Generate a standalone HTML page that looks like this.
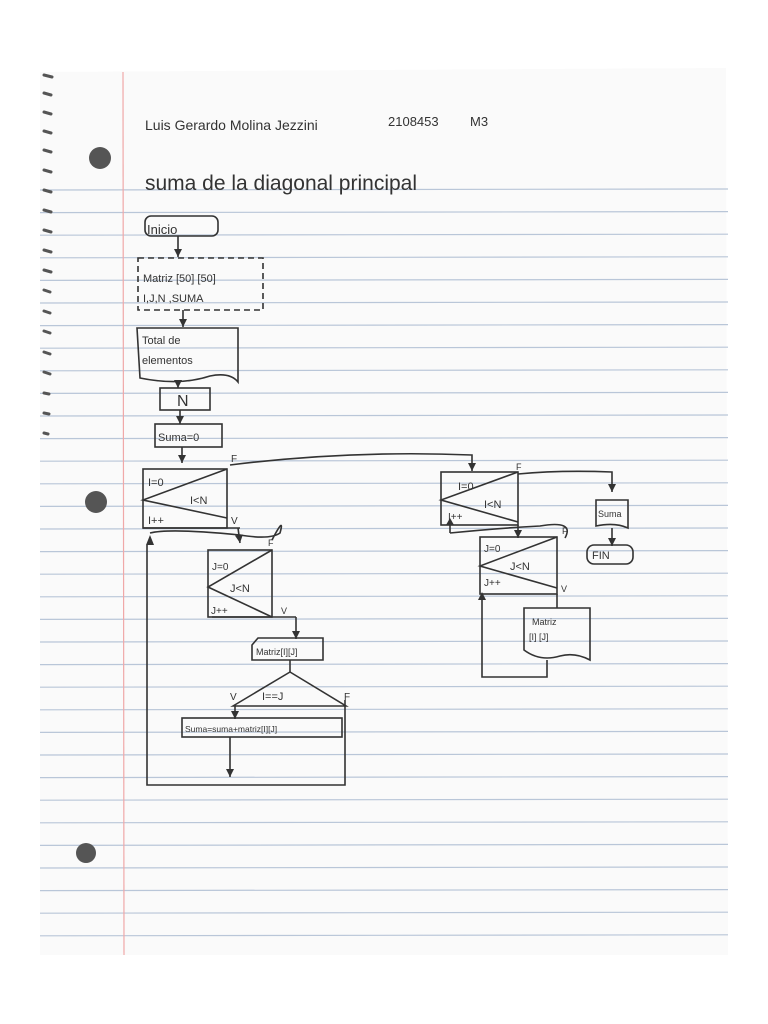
<!DOCTYPE html>
<html><head><meta charset="utf-8"><style>
html,body{margin:0;padding:0;background:#fff;width:768px;height:1024px;overflow:hidden}
svg{display:block}
text{font-family:"Liberation Sans",sans-serif;fill:#333}
</style></head><body>
<svg width="768" height="1024" viewBox="0 0 768 1024" xmlns="http://www.w3.org/2000/svg">
<defs>
<marker id="a" markerWidth="9" markerHeight="9" refX="8" refY="4" orient="auto" markerUnits="userSpaceOnUse"><path d="M0,0 L8,4 L0,8 Z" fill="#333"/></marker>
</defs>
<rect x="0" y="0" width="768" height="1024" fill="#fff"/>
<polygon points="40,72 726,68 728,955 40,955" fill="#fafafa"/>
<g stroke="#b9c6d8" stroke-width="1.2">
<line x1="40" y1="190" x2="728" y2="189"/><line x1="40" y1="212.6" x2="728" y2="211.6"/><line x1="40" y1="235.2" x2="728" y2="234.2"/><line x1="40" y1="257.8" x2="728" y2="256.8"/><line x1="40" y1="280.4" x2="728" y2="279.4"/><line x1="40" y1="303" x2="728" y2="302"/><line x1="40" y1="325.6" x2="728" y2="324.6"/><line x1="40" y1="348.2" x2="728" y2="347.2"/><line x1="40" y1="370.8" x2="728" y2="369.8"/><line x1="40" y1="393.4" x2="728" y2="392.4"/><line x1="40" y1="416" x2="728" y2="415"/><line x1="40" y1="438.6" x2="728" y2="437.6"/><line x1="40" y1="461.2" x2="728" y2="460.2"/><line x1="40" y1="483.8" x2="728" y2="482.8"/><line x1="40" y1="506.4" x2="728" y2="505.4"/><line x1="40" y1="529" x2="728" y2="528"/><line x1="40" y1="551.6" x2="728" y2="550.6"/><line x1="40" y1="574.2" x2="728" y2="573.2"/><line x1="40" y1="596.8" x2="728" y2="595.8"/><line x1="40" y1="619.4" x2="728" y2="618.4"/><line x1="40" y1="642" x2="728" y2="641"/><line x1="40" y1="664.6" x2="728" y2="663.6"/><line x1="40" y1="687.2" x2="728" y2="686.2"/><line x1="40" y1="709.8" x2="728" y2="708.8"/><line x1="40" y1="732.4" x2="728" y2="731.4"/><line x1="40" y1="755" x2="728" y2="754"/><line x1="40" y1="777.6" x2="728" y2="776.6"/><line x1="40" y1="800.2" x2="728" y2="799.2"/><line x1="40" y1="822.8" x2="728" y2="821.8"/><line x1="40" y1="845.4" x2="728" y2="844.4"/><line x1="40" y1="868" x2="728" y2="867"/><line x1="40" y1="890.6" x2="728" y2="889.6"/><line x1="40" y1="913.2" x2="728" y2="912.2"/><line x1="40" y1="935.8" x2="728" y2="934.8"/>
</g>
<line x1="123" y1="72" x2="124" y2="955" stroke="#f0a8a8" stroke-width="1.2"/>
<g fill="#555">
<circle cx="100" cy="158" r="11"/><circle cx="96" cy="502" r="11"/><circle cx="86" cy="853" r="10"/>
</g>
<g stroke="#555" stroke-width="3" stroke-linecap="round">
<line x1="44" y1="75" x2="52" y2="77"/><line x1="44" y1="93" x2="51" y2="95"/><line x1="44" y1="112" x2="51" y2="114"/><line x1="44" y1="131" x2="51" y2="133"/><line x1="44" y1="150" x2="51" y2="152"/><line x1="44" y1="170" x2="51" y2="172"/><line x1="44" y1="190" x2="51" y2="192"/><line x1="44" y1="210" x2="51" y2="212"/><line x1="44" y1="230" x2="51" y2="232"/><line x1="44" y1="250" x2="51" y2="252"/><line x1="44" y1="270" x2="51" y2="272"/><line x1="44" y1="290" x2="50" y2="292"/><line x1="44" y1="311" x2="50" y2="313"/><line x1="44" y1="331" x2="50" y2="333"/><line x1="44" y1="352" x2="50" y2="354"/><line x1="44" y1="372" x2="50" y2="374"/><line x1="44" y1="393" x2="49" y2="394"/><line x1="44" y1="413" x2="49" y2="414"/><line x1="44" y1="433" x2="48" y2="434"/>
</g>
<text x="145" y="130" font-size="14" fill="#333">Luis Gerardo Molina Jezzini</text>
<text x="388" y="126" font-size="13">2108453</text>
<text x="470" y="126" font-size="13">M3</text>
<text x="145" y="190" font-size="21">suma de la diagonal principal</text>
<g stroke="#333" stroke-width="1.6" fill="none">
<rect x="145" y="216" width="73" height="20" rx="6"/>
<line x1="178" y1="236" x2="178" y2="257" marker-end="url(#a)"/>
<rect x="138" y="258" width="125" height="52" stroke-dasharray="6,4"/>
<line x1="183" y1="310" x2="183" y2="327" marker-end="url(#a)"/>
<path d="M137,328 H238 V382 Q230,372 210,376 Q180,386 140,378 Z"/>
<line x1="178" y1="380" x2="178" y2="388" marker-end="url(#a)"/>
<rect x="160" y="388" width="50" height="22"/>
<line x1="180" y1="410" x2="180" y2="424" marker-end="url(#a)"/>
<rect x="155" y="424" width="67" height="23"/>
<line x1="182" y1="447" x2="182" y2="463" marker-end="url(#a)"/>
<rect x="143" y="469" width="84" height="59"/>
<path d="M227,469 L143,500 L227,518"/>
<line x1="143" y1="528" x2="240" y2="528"/>
<path d="M230,465 Q350,450 472,455 V471" marker-end="url(#a)"/>
<line x1="238" y1="528" x2="240" y2="543" marker-end="url(#a)"/>
<path d="M150,533 Q170,528 240,535 Q270,540 280,533 Q285,515 272,540" />
<path d="M147,545 V785 H345 V700"/>
<rect x="208" y="550" width="64" height="67"/>
<path d="M272,550 L208,587 L272,617"/>
<line x1="212" y1="617" x2="296" y2="617"/>
<line x1="296" y1="617" x2="296" y2="639" marker-end="url(#a)"/>
<path d="M252,645 L258,638 H323 V660 H252 Z"/>
<line x1="290" y1="660" x2="290" y2="672"/>
<path d="M233,706 L290,672 L346,706 Z"/>
<line x1="235" y1="706" x2="235" y2="719" marker-end="url(#a)"/>
<rect x="182" y="718" width="160" height="19"/>
<line x1="230" y1="737" x2="230" y2="777" marker-end="url(#a)"/>
<rect x="441" y="472" width="77" height="53"/>
<path d="M518,472 L441,500 L518,522"/>
<path d="M518,474 Q560,470 612,472 V492" marker-end="url(#a)"/>
<path d="M596,500 H628 V528 Q615,522 596,526 Z"/>
<line x1="612" y1="528" x2="612" y2="546" marker-end="url(#a)"/>
<rect x="587" y="545" width="46" height="19" rx="7"/>
<line x1="518" y1="525" x2="518" y2="538" marker-end="url(#a)"/>
<rect x="480" y="537" width="77" height="57"/>
<path d="M557,537 L480,566 L557,588"/>
<path d="M450,533 Q500,528 540,526 Q575,520 565,538"/>
<line x1="450" y1="533" x2="450" y2="525"/>
<line x1="557" y1="594" x2="557" y2="608"/>
<path d="M524,608 H590 V660 Q575,652 560,656 Q540,662 524,650 Z"/>
<path d="M547,660 V677 H482 V596"/>
</g>
<path d="M478,600 L482,592 L486,600 Z" fill="#333"/>
<path d="M446,525 L450,518 L454,525 Z" fill="#333"/>
<path d="M146,545 L150,535 L154,545 Z" fill="#333"/>
<g font-size="11">
<text x="147" y="234" font-size="13">Inicio</text>
<text x="143" y="282" font-size="11">Matriz [50] [50]</text>
<text x="143" y="302" font-size="11">I,J,N ,SUMA</text>
<text x="142" y="344">Total de</text>
<text x="142" y="364">elementos</text>
<text x="177" y="406" font-size="16">N</text>
<text x="158" y="441">Suma=0</text>
<text x="148" y="486">I=0</text>
<text x="190" y="504">I&lt;N</text>
<text x="148" y="524">I++</text>
<text x="231" y="462" font-size="10">F</text>
<text x="231" y="524" font-size="10">V</text>
<text x="212" y="570" font-size="10">J=0</text>
<text x="230" y="592">J&lt;N</text>
<text x="211" y="614" font-size="10">J++</text>
<text x="268" y="546" font-size="9">F</text>
<text x="281" y="614" font-size="9">V</text>
<text x="256" y="655" font-size="9">Matriz[I][J]</text>
<text x="262" y="700" font-size="11">I==J</text>
<text x="230" y="700" font-size="10">V</text>
<text x="344" y="700" font-size="10">F</text>
<text x="185" y="732" font-size="8.5">Suma=suma+matriz[I][J]</text>
<text x="458" y="490">I=0</text>
<text x="484" y="508">I&lt;N</text>
<text x="448" y="520" font-size="10">I++</text>
<text x="516" y="470" font-size="9">F</text>
<text x="598" y="517" font-size="9">Suma</text>
<text x="592" y="559" font-size="11">FIN</text>
<text x="484" y="552" font-size="10">J=0</text>
<text x="510" y="570">J&lt;N</text>
<text x="484" y="586" font-size="10">J++</text>
<text x="562" y="534" font-size="9">F</text>
<text x="561" y="592" font-size="9">V</text>
<text x="532" y="625" font-size="9">Matriz</text>
<text x="529" y="640" font-size="9">[I] [J]</text>
</g>
</svg>
</body></html>
